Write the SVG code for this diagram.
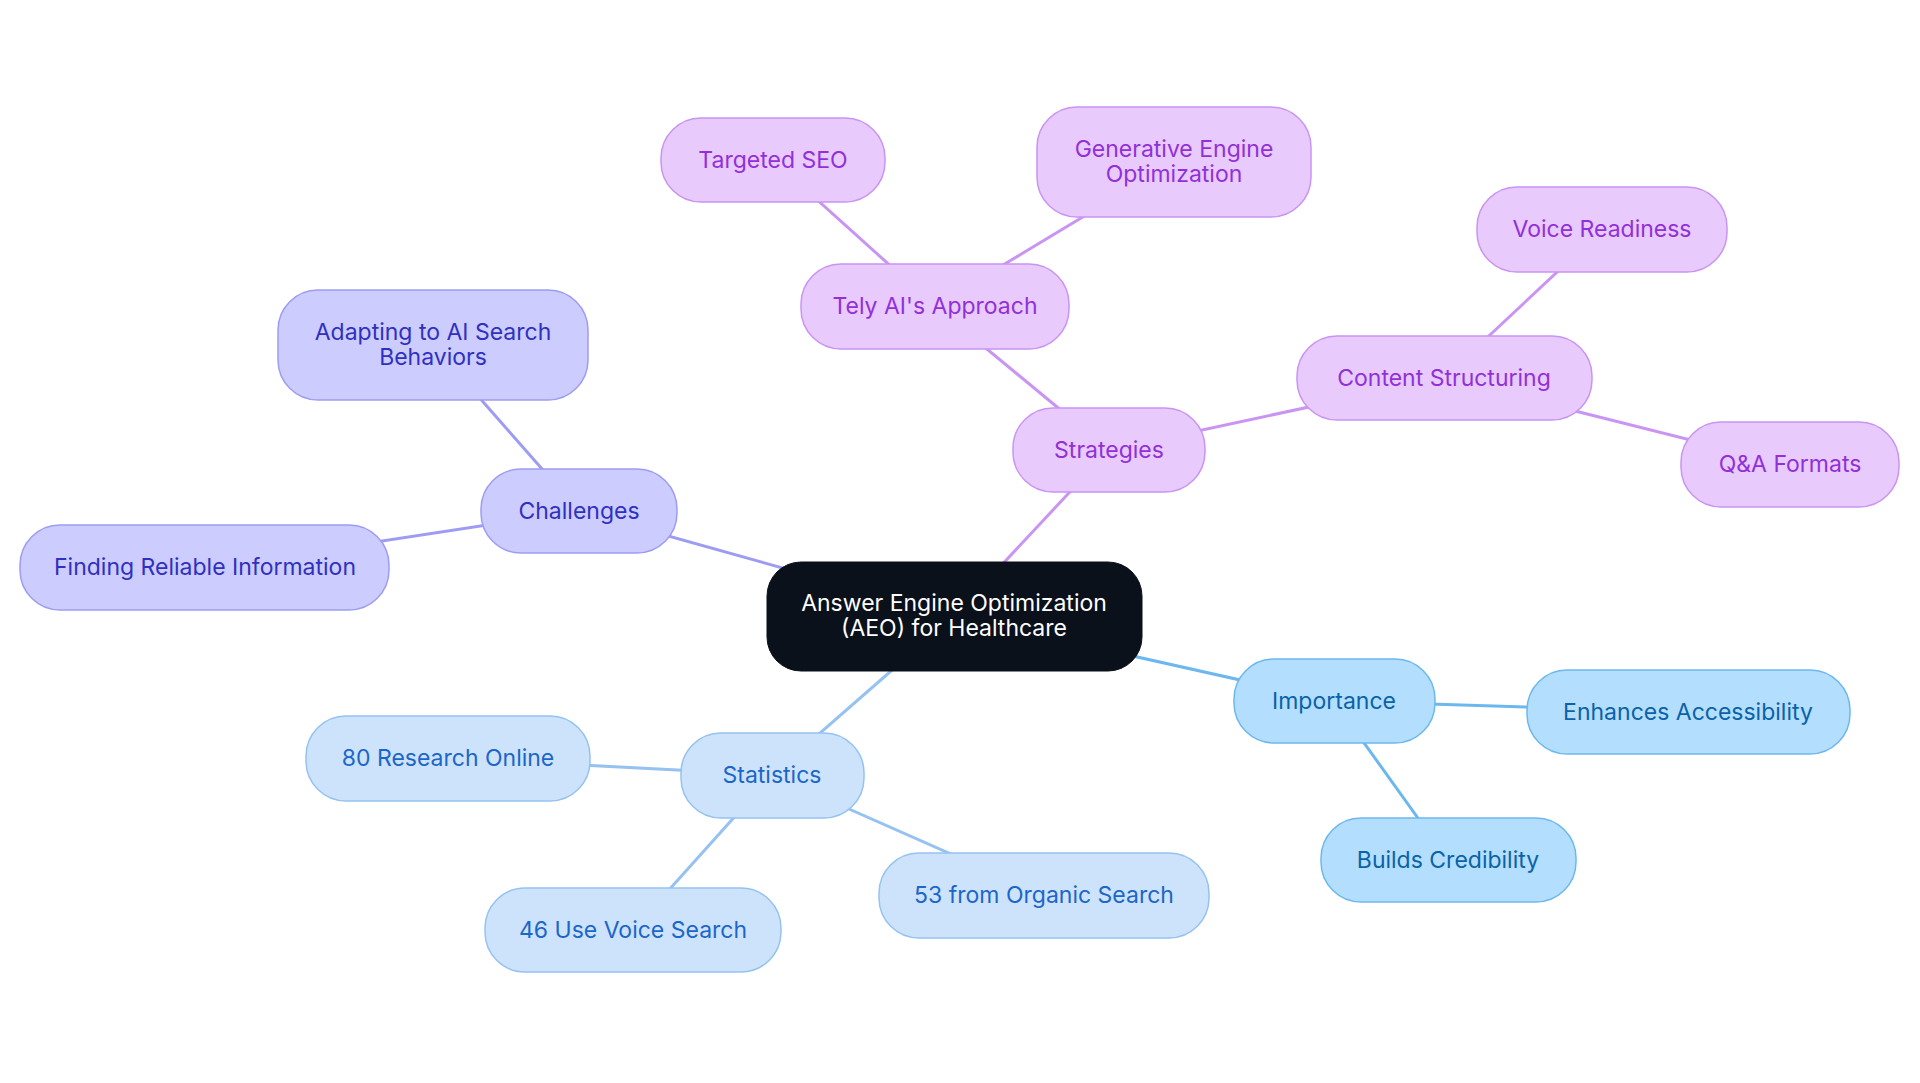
<svg xmlns="http://www.w3.org/2000/svg" width="1920" height="1083" viewBox="0 0 1920 1083">
<style>
text{font-family:Inter,"Noto Sans",sans-serif;font-size:23px;text-anchor:middle;dominant-baseline:central}
.p rect{fill:#e8cafd;stroke:#c994f2;stroke-width:1.5}.p text{fill:#9230d8}
.v rect{fill:#ccccff;stroke:#9d9cf2;stroke-width:1.5}.v text{fill:#3030c0}
.l rect{fill:#cde3fb;stroke:#95c2f0;stroke-width:1.5}.l text{fill:#1c66c8}
.s rect{fill:#b4defd;stroke:#6cb8ee;stroke-width:1.5}.s text{fill:#0a62a8}
.c rect{fill:#0b111b;stroke:#0b111b}.c text{fill:#ffffff}
#edges line{stroke-width:3}
</style>
<rect width="1920" height="1083" fill="#fff"/>
<g id="edges">
<line x1="954" y1="616" x2="1109" y2="450" stroke="#c994f2"/>
<line x1="1109" y1="450" x2="935" y2="306" stroke="#c994f2"/>
<line x1="935" y1="306" x2="773" y2="160" stroke="#c994f2"/>
<line x1="935" y1="306" x2="1174" y2="162" stroke="#c994f2"/>
<line x1="1109" y1="450" x2="1444" y2="378" stroke="#c994f2"/>
<line x1="1444" y1="378" x2="1602" y2="230" stroke="#c994f2"/>
<line x1="1444" y1="378" x2="1790" y2="465" stroke="#c994f2"/>
<line x1="954" y1="616" x2="579" y2="511" stroke="#9d9cf2"/>
<line x1="579" y1="511" x2="433" y2="345" stroke="#9d9cf2"/>
<line x1="579" y1="511" x2="205" y2="568" stroke="#9d9cf2"/>
<line x1="954" y1="616" x2="1334" y2="701" stroke="#6cb8ee"/>
<line x1="1334" y1="701" x2="1688" y2="712" stroke="#6cb8ee"/>
<line x1="1334" y1="701" x2="1448" y2="860" stroke="#6cb8ee"/>
<line x1="954" y1="616" x2="772" y2="775" stroke="#95c2f0"/>
<line x1="772" y1="775" x2="448" y2="758" stroke="#95c2f0"/>
<line x1="772" y1="775" x2="633" y2="930" stroke="#95c2f0"/>
<line x1="772" y1="775" x2="1044" y2="895" stroke="#95c2f0"/>
</g>
<g id="central" class="c"><rect x="767" y="562" width="375" height="109" rx="34"/><text x="954" y="603">Answer Engine Optimization</text><text x="954" y="628">(AEO) for Healthcare</text></g>
<g id="challenges" class="v"><rect x="481" y="469" width="196" height="84" rx="40"/><text x="579" y="511">Challenges</text></g>
<g id="adapting" class="v"><rect x="278" y="290" width="310" height="110" rx="40"/><text x="433" y="332">Adapting to AI Search</text><text x="433" y="357">Behaviors</text></g>
<g id="finding" class="v"><rect x="20" y="525" width="369" height="85" rx="40"/><text x="205" y="567">Finding Reliable Information</text></g>
<g id="strategies" class="p"><rect x="1013" y="408" width="192" height="84" rx="40"/><text x="1109" y="450">Strategies</text></g>
<g id="tely" class="p"><rect x="801" y="264" width="268" height="85" rx="40"/><text x="935" y="306">Tely AI's Approach</text></g>
<g id="targeted" class="p"><rect x="661" y="118" width="224" height="84" rx="40"/><text x="773" y="160">Targeted SEO</text></g>
<g id="generative" class="p"><rect x="1037" y="107" width="274" height="110" rx="40"/><text x="1174" y="149">Generative Engine</text><text x="1174" y="174">Optimization</text></g>
<g id="content" class="p"><rect x="1297" y="336" width="295" height="84" rx="40"/><text x="1444" y="378">Content Structuring</text></g>
<g id="voice" class="p"><rect x="1477" y="187" width="250" height="85" rx="40"/><text x="1602" y="229">Voice Readiness</text></g>
<g id="qa" class="p"><rect x="1681" y="422" width="218" height="85" rx="40"/><text x="1790" y="464">Q&amp;A Formats</text></g>
<g id="importance" class="s"><rect x="1234" y="659" width="201" height="84" rx="40"/><text x="1334" y="701">Importance</text></g>
<g id="enhances" class="s"><rect x="1527" y="670" width="323" height="84" rx="40"/><text x="1688" y="712">Enhances Accessibility</text></g>
<g id="builds" class="s"><rect x="1321" y="818" width="255" height="84" rx="40"/><text x="1448" y="860">Builds Credibility</text></g>
<g id="statistics" class="l"><rect x="681" y="733" width="183" height="85" rx="40"/><text x="772" y="775">Statistics</text></g>
<g id="research" class="l"><rect x="306" y="716" width="284" height="85" rx="40"/><text x="448" y="758">80 Research Online</text></g>
<g id="voicesearch" class="l"><rect x="485" y="888" width="296" height="84" rx="40"/><text x="633" y="930">46 Use Voice Search</text></g>
<g id="organic" class="l"><rect x="879" y="853" width="330" height="85" rx="40"/><text x="1044" y="895">53 from Organic Search</text></g>
</svg>
